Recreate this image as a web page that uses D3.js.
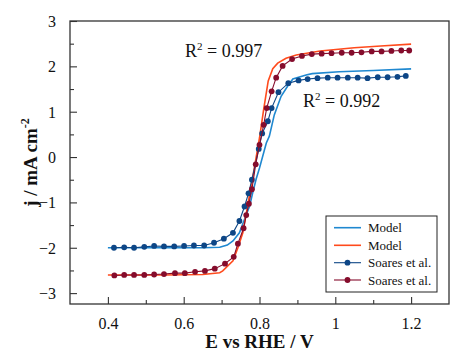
<!DOCTYPE html>
<html><head><meta charset="utf-8">
<script src="https://cdn.jsdelivr.net/npm/d3@7"></script>
<style>
body{margin:0;background:#fff;}
svg{display:block;font-family:"Liberation Serif","Times New Roman",serif;}
svg text{font-family:"Liberation Serif","Times New Roman",serif;}
</style></head>
<body><svg id="c" width="474" height="355"></svg>
<script>
// Data
const modelBlueE = [0.40,0.55,0.65,0.695,0.715,0.730,0.747,0.7605,0.774,0.782,0.791,0.800,0.818,0.826,0.839,0.857,0.874,0.888,0.923,0.939,1.01,1.10,1.20];
const modelBlueJ = [-2.00,-2.00,-2.00,-1.99,-1.94,-1.85,-1.67,-1.37,-1.08,-0.79,-0.49,-0.24,0.31,0.46,0.93,1.34,1.56,1.72,1.81,1.84,1.88,1.91,1.945];
const modelRedE = [0.40,0.55,0.65,0.695,0.703,0.730,0.743,0.756,0.767,0.780,0.800,0.811,0.823,0.835,0.848,0.870,0.897,0.96,1.05,1.12,1.20];
const modelRedJ = [-2.60,-2.60,-2.59,-2.55,-2.51,-2.29,-2.00,-1.67,-1.15,-0.55,0.42,1.05,1.68,1.95,2.07,2.18,2.25,2.34,2.41,2.45,2.49];
const soaresBlueE = [0.416,0.443,0.469,0.496,0.522,0.548,0.575,0.601,0.627,0.654,0.680,0.706,0.730,0.747,0.7605,0.771,0.780,0.798,0.807,0.822,0.832,0.850,0.876,0.903,0.927,0.953,0.980,1.006,1.033,1.059,1.085,1.112,1.138,1.164,1.186];
const soaresBlueJ = [-2.00,-1.99,-2.00,-1.98,-1.96,-1.97,-1.97,-1.96,-1.95,-1.95,-1.89,-1.80,-1.67,-1.41,-1.09,-0.80,-0.50,0.18,0.52,0.79,1.08,1.43,1.63,1.69,1.72,1.74,1.75,1.75,1.75,1.75,1.74,1.76,1.76,1.77,1.79];
const soaresRedE = [0.417,0.443,0.469,0.496,0.522,0.548,0.577,0.603,0.630,0.656,0.682,0.709,0.732,0.743,0.758,0.765,0.772,0.780,0.790,0.800,0.811,0.819,0.832,0.844,0.861,0.886,0.912,0.938,0.964,0.990,1.017,1.043,1.069,1.096,1.122,1.148,1.174,1.195];
const soaresRedJ = [-2.61,-2.60,-2.60,-2.60,-2.59,-2.58,-2.56,-2.56,-2.53,-2.51,-2.46,-2.35,-2.20,-1.91,-1.57,-1.28,-1.03,-0.71,-0.16,0.27,0.71,1.08,1.45,1.75,2.01,2.16,2.23,2.27,2.28,2.29,2.30,2.30,2.31,2.33,2.33,2.34,2.35,2.35];
const xTicks = [0.4,0.6,0.8,1.0,1.2];
const xTickLabels = ["0.4","0.6","0.8","1","1.2"];
const xMinor = [0.5,0.7,0.9,1.1];
const yTicks = [3,2,1,0,-1,-2,-3];
const yTickLabels = ["3","2","1","0","\u22121","\u22122","\u22123"];
const yMinor = [2.5,1.5,0.5,-0.5,-1.5,-2.5];
const legendLabels = ["Model","Model","Soares et al.","Soares et al."];
const r2Labels = ["0.997","0.992"];

const colModelBlue = "#1f88d0", colModelRed = "#ff4a1c", colSoBlue = "#0d4686", colSoRed = "#850c2c";
const FF = "'Liberation Serif','Times New Roman',serif";

const svg = d3.select("#c");
const L = 70, T = 21, R = 449, B = 304;
const x = d3.scaleLinear().domain([0.3,1.3]).range([L,R]);
const y = d3.scaleLinear().domain([-3.24,3]).range([B,T]);

// axes
const axColor = "#333";
const gx = svg.append("g").attr("transform",`translate(0,${B})`)
  .call(d3.axisBottom(x).tickValues(xTicks).tickSize(-7).tickPadding(14)
    .tickFormat((d,i)=>xTickLabels[i]));
const gxm = svg.append("g").attr("transform",`translate(0,${B})`)
  .call(d3.axisBottom(x).tickValues(xMinor).tickSize(-4).tickFormat(""));
const gy = svg.append("g").attr("transform",`translate(${L},0)`)
  .call(d3.axisLeft(y).tickValues(yTicks).tickSize(-7).tickPadding(14)
    .tickFormat((d,i)=>yTickLabels[i]));
const gym = svg.append("g").attr("transform",`translate(${L},0)`)
  .call(d3.axisLeft(y).tickValues(yMinor).tickSize(-4).tickFormat(""));
[gx,gxm,gy,gym].forEach(g=>{
  g.attr("font-family",FF).attr("font-size",16);
  g.select(".domain").remove();
  g.selectAll("line").attr("stroke",axColor).attr("stroke-width",1.1);
  g.selectAll("text").attr("fill","#111").attr("font-size",16).attr("font-family",FF);
});
gy.selectAll("text").attr("dy","0.34em");

svg.append("rect").attr("x",L).attr("y",T).attr("width",R-L).attr("height",B-T)
  .attr("fill","none").attr("stroke",axColor).attr("stroke-width",1.3);

// lines
const line = d3.line().x(d=>x(d[0])).y(d=>y(d[1]));
const zip = (a,b)=>a.map((v,i)=>[v,b[i]]);
svg.append("path").datum(zip(modelBlueE,modelBlueJ)).attr("d",line)
  .attr("fill","none").attr("stroke",colModelBlue).attr("stroke-width",1.6);
svg.append("path").datum(zip(modelRedE,modelRedJ)).attr("d",line)
  .attr("fill","none").attr("stroke",colModelRed).attr("stroke-width",1.6);
function soares(E,J,c){
  const d = zip(E,J);
  svg.append("path").datum(d).attr("d",line).attr("fill","none").attr("stroke",c).attr("stroke-width",1.1);
  svg.append("g").selectAll("circle").data(d).join("circle")
    .attr("cx",p=>x(p[0])).attr("cy",p=>y(p[1])).attr("r",2.9).attr("fill",c);
}
soares(soaresBlueE,soaresBlueJ,colSoBlue);
soares(soaresRedE,soaresRedJ,colSoRed);

// R2 annotations
function r2(tx,ty,val){
  const t = svg.append("text").attr("x",tx).attr("y",ty).attr("font-size",18).attr("fill","#111").attr("font-family",FF);
  t.append("tspan").text("R");
  t.append("tspan").text("2").attr("font-size",11).attr("dy",-7);
  t.append("tspan").text(" = " + val).attr("dy",7);
}
r2(185,57,r2Labels[0]);
r2(303,107,r2Labels[1]);

// axis titles
svg.append("text").attr("x",(L+R)/2).attr("y",348).attr("text-anchor","middle").attr("font-family",FF)
  .attr("font-size",19).attr("font-weight","bold").attr("fill","#111").text("E vs RHE / V");
const yt = svg.append("text").attr("transform",`translate(37,${(T+B)/2}) rotate(-90)`).attr("font-family",FF)
  .attr("text-anchor","middle").attr("font-size",19).attr("font-weight","bold").attr("fill","#111");
yt.append("tspan").text("j / mA cm");
yt.append("tspan").text("-2").attr("font-size",12).attr("dy",-8);

// legend
const lg = svg.append("g").attr("font-family",FF);
lg.append("rect").attr("x",326).attr("y",216).attr("width",111).attr("height",76)
  .attr("fill","#fff").attr("stroke","#222").attr("stroke-width",1);
const legCols = [colModelBlue,colModelRed,colSoBlue,colSoRed];
const legY = [227.7,245.3,262.7,280];
legendLabels.forEach((lab,i)=>{
  lg.append("line").attr("x1",334).attr("x2",361).attr("y1",legY[i]).attr("y2",legY[i])
    .attr("stroke",legCols[i]).attr("stroke-width",i<2?1.6:1.1);
  if(i>=2) lg.append("circle").attr("cx",347.5).attr("cy",legY[i]).attr("r",2.9).attr("fill",legCols[i]);
  lg.append("text").attr("x",368).attr("y",legY[i]).attr("dy","0.35em").attr("font-size",13)
    .attr("fill","#111").text(lab);
});
</script></body></html>
